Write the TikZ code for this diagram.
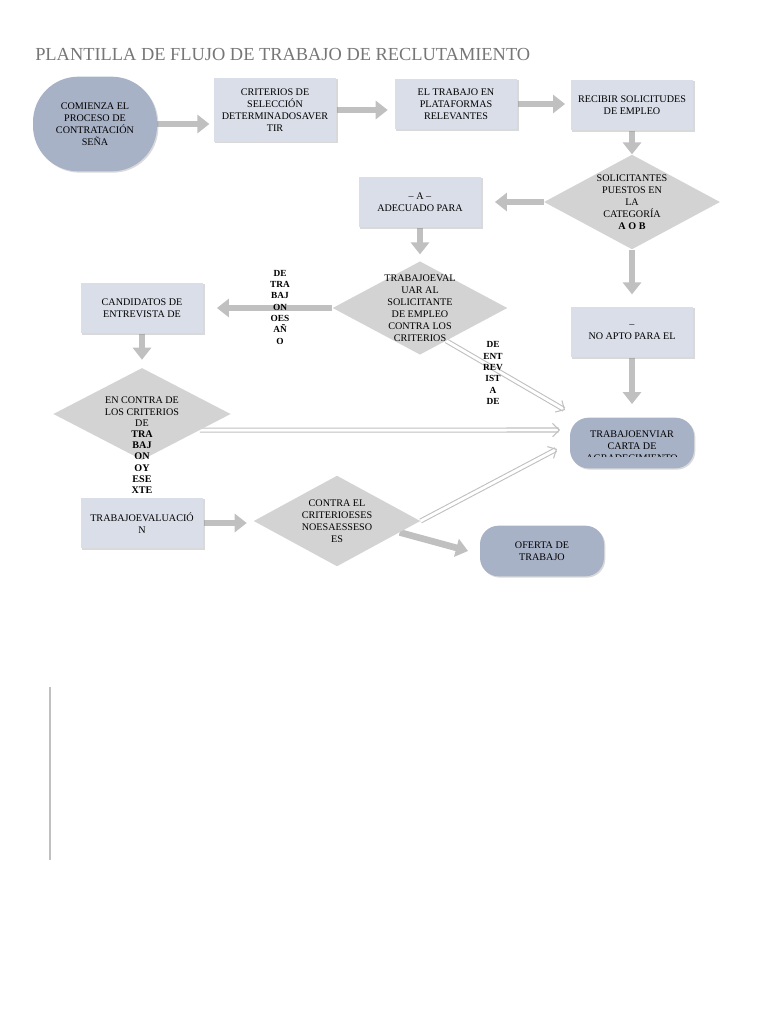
\documentclass[tikz,border=0pt]{standalone}
\usepackage{fontspec}
\setmainfont{Liberation Serif}
\usepackage{tikz}
\usetikzlibrary{backgrounds}
\usetikzlibrary{arrows.meta}
\usetikzlibrary{shapes.geometric}
\usetikzlibrary{shadows}
\usetikzlibrary{calc}
\definecolor{boxfill}{RGB}{217,222,232}
\definecolor{endfill}{RGB}{168,178,199}
\definecolor{diafill}{RGB}{211,211,211}
\definecolor{arrowgray}{RGB}{192,192,192}
\definecolor{titlegray}{RGB}{118,118,118}
\tikzstyle{flow}=[x=0.75pt, y=-0.75pt, font=\fontsize{7.6}{9}\selectfont]
\tikzstyle{title}=[anchor=west, inner sep=0pt, text=titlegray, font=\fontsize{13.8}{16}\selectfont]
\tikzstyle{stepbox}=[rectangle, fill=boxfill, minimum width=92pt, minimum height=38pt, align=center, inner sep=1pt, drop shadow={shadow xshift=1pt, shadow yshift=-1pt, opacity=0.3}]
\tikzstyle{endbox}=[rectangle, rounded corners=14pt, fill=endfill, minimum width=93pt, minimum height=38pt, align=center, inner sep=1pt, drop shadow={shadow xshift=1pt, shadow yshift=-1pt, opacity=0.3}]
\tikzstyle{dia}=[diamond, fill=diafill, inner sep=0pt]
\tikzstyle{dtext}=[align=center, inner sep=0pt]
\tikzstyle{vlab}=[align=center, inner sep=0pt, font=\fontsize{7}{8.5}\selectfont\bfseries]
\tikzstyle{pipe}=[arrowgray, line width=5pt, -{Triangle[length=9pt, width=13.5pt]}]
\tikzstyle{hollow}=[draw=arrowgray, line width=0.8pt, double=white, double distance=2.2pt, -{Straight Barb[length=5pt, width=10pt]}]

\begin{document}
\begin{tikzpicture}[flow]
		\useasboundingbox (0,0) rectangle (768,1024);
		\node[title] (title) at (35,54) {PLANTILLA DE FLUJO DE TRABAJO DE RECLUTAMIENTO};
		
		%The top row
		\node[endbox, rounded corners=34pt, minimum height=71pt] (start) at (95,124) {COMIENZA EL\\PROCESO DE\\CONTRATACIÓN\\SEÑA};
		\node[stepbox, minimum height=48pt] (crit) at (275,110) {CRITERIOS DE\\SELECCIÓN\\DETERMINADOSAVER\\TIR};
		\node[stepbox] (plat) at (456,104) {EL TRABAJO EN\\PLATAFORMAS\\RELEVANTES};
		\node[stepbox] (recv) at (632,105) {RECIBIR SOLICITUDES\\DE EMPLEO};
		
		%The category decision
		\node[dia, minimum width=132pt, minimum height=71pt] (d1) at (632,202) {};
		\node[dtext] at (d1) {SOLICITANTES\\PUESTOS EN\\LA\\CATEGORÍA\\\textbf{A O B}};
		\node[stepbox] (adec) at (420,202) {– A –\\ADECUADO PARA};
		\node[stepbox] (noapto) at (632,332) {–\\NO APTO PARA EL};
		
		%The evaluation decision
		\node[dia, minimum width=131pt, minimum height=70pt] (d2) at (420,308) {};
		\node[dtext] at (d2) {TRABAJOEVAL\\UAR AL\\SOLICITANTE\\DE EMPLEO\\CONTRA LOS\\CRITERIOS};
		\node[stepbox] (cand) at (142,308) {CANDIDATOS DE\\ENTREVISTA DE};
		\node[vlab] (labA) at (280,307) {DE\\TRA\\BAJ\\ON\\OES\\AÑ\\O};
		\node[vlab] (labB) at (493,373) {DE\\ENT\\REV\\IST\\A\\DE};
		
		%The interview decision
		\node[dia, minimum width=133pt, minimum height=69pt] (d3) at (142,414) {};
		\node[dtext, anchor=north, font=\fontsize{7.6}{8.4}\selectfont] at (142,397) {EN CONTRA DE\\LOS CRITERIOS\\DE\\\textbf{TRA}\\\textbf{BAJ}\\\textbf{ON}\\\textbf{OY}\\\textbf{ESE}\\\textbf{XTE}};
		
		%The last row
		\node[stepbox] (eval) at (142,523) {TRABAJOEVALUACIÓ\\N};
		\node[dia, minimum width=125pt, minimum height=68pt] (d4) at (337,521) {};
		\node[dtext] at (d4) {CONTRA EL\\CRITERIOESES\\NOESAESSESO\\ES};
		\node[endbox] (oferta) at (542,551) {OFERTA DE\\TRABAJO};
		\node[endbox] (carta) at (632,443) {};
		\begin{scope}
			\clip (570,418) rectangle (694,456);
			\node[dtext] at (632,446) {TRABAJOENVIAR\\CARTA DE\\AGRADECIMIENTO};
		\end{scope}
		
		%The free ends
		\coordinate (hA) at (565,410);
		\coordinate (hB) at (560,430);
		\coordinate (hC) at (557,449);
		\coordinate (pD) at (468,551);
		
		%The connectors
		\begin{scope}[on background layer]
			\draw[pipe, shorten >=3pt] (start.east) -- (crit.west |- start.east);
			\draw[pipe, shorten >=5pt] (crit.east) -- (crit.east -| plat.west);
			\draw[pipe, shorten >=4pt] (plat.east) -- (plat.east -| recv.west);
			\draw[pipe] (recv.south) -- (d1.north);
			\draw[pipe, shorten >=10pt] (d1.west) -- (adec.east);
			\draw[pipe, shorten >=9pt] (d1.south) -- (noapto.north);
			\draw[pipe, shorten >=5pt] (adec.south) -- (d2.north);
			\draw[pipe, shorten >=10pt] (d2.west) -- (cand.east);
			\draw[pipe, shorten >=6pt] (cand.south) -- (d3.north);
			\draw[pipe, shorten >=10pt] (noapto.south) -- (carta.north);
			\draw[pipe, shorten >=5pt] (eval.east) -- (eval.east -| d4.west);
			\draw[pipe] ($(d4.east)!0.25!(d4.south)$) -- (pD);
			\draw[hollow] ($(d2.south)!0.3!(d2.east)$) -- (hA);
			\draw[hollow] ($(d3.east)!0.35!(d3.south)$) -- (hB);
			\draw[hollow] (d4.east) -- (hC);
		\end{scope}
		
		%The side rule
		\draw[arrowgray, line width=2.2pt] (50,687) -- (50,860);
		\end{tikzpicture}
\end{document}
